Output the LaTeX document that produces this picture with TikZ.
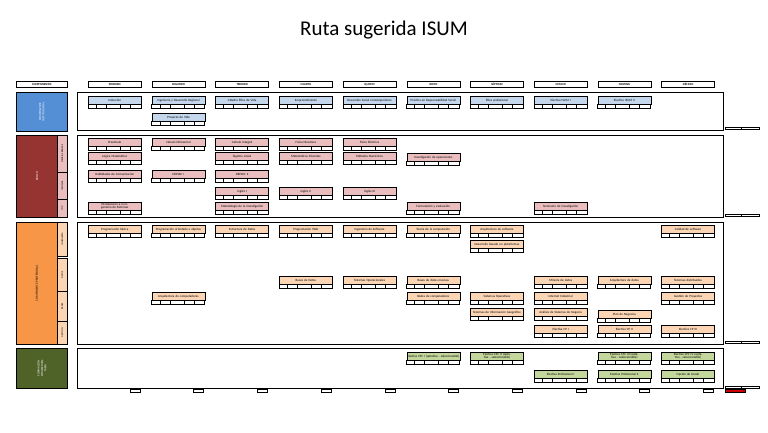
\documentclass[tikz,border=0pt]{standalone}
\usepackage{fontspec}
\setmainfont{Carlito}
\begin{document}
\begin{tikzpicture}[x=1pt,y=-1pt,
 crs/.style={draw,line width=0.5pt,anchor=north west,minimum width=53pt,minimum height=8pt,inner sep=0.3pt,align=center,text width=52pt,font=\fontsize{3.2}{3.5}\selectfont},
 hdr/.style={draw,line width=0.6pt,anchor=north west,minimum width=53pt,minimum height=6pt,inner sep=0pt,font=\fontsize{3}{3}\selectfont\bfseries},
 frame/.style={draw,line width=0.8pt},
 comp/.style={draw,line width=0.6pt,anchor=north west,inner sep=0pt},
 tab/.style={draw,line width=0.4pt,anchor=north west,inner sep=0pt,font=\fontsize{2.5}{2.8}\selectfont}]
\definecolor{cb}{RGB}{196,215,237}
\definecolor{cr}{RGB}{234,190,190}
\definecolor{co}{RGB}{251,213,180}
\definecolor{cg}{RGB}{195,214,155}
\definecolor{kb}{RGB}{84,142,213}
\definecolor{kr}{RGB}{150,52,50}
\definecolor{ko}{RGB}{247,150,70}
\definecolor{kg}{RGB}{79,98,40}
\useasboundingbox (0,0) rectangle (768,433);
\node (title) at (384,30) {\fontsize{21}{24}\selectfont Ruta sugerida ISUM};
% headers
\node[hdr,minimum width=51pt] (hc) at (16,81) {COMPONENTES};
\foreach \n [count=\i from 0] in {PRIMERO,SEGUNDO,TERCERO,CUARTO,QUINTO,SEXTO,SÉPTIMO,OCTAVO,NOVENO,DÉCIMO}
  \node[hdr] (h\i) at ({88+63.7*\i},81) {\n};
% frames
\draw[frame] (77,92) rectangle (723,130);
\draw[frame] (77,135) rectangle (723,217);
\draw[frame] (77,222) rectangle (723,344);
\draw[frame] (77,348) rectangle (723,388);
% component labels
\node[comp,fill=kb,minimum width=51pt,minimum height=39pt,text=white] (k1) at (16,92) {\rotatebox{90}{\parbox{20pt}{\centering\fontsize{3}{3.4}\selectfont COMPONENTE INSTITUCIONAL}}};
\node[comp,fill=kr,minimum width=41pt,minimum height=82pt,text=white] (k2) at (16,135) {\rotatebox{90}{\fontsize{3}{3}\selectfont BÁSICO}};
\node[comp,fill=ko,minimum width=41pt,minimum height=122pt] (k3) at (16,222) {\rotatebox{90}{\fontsize{3}{3}\selectfont COMPONENTE PROFESIONAL}};
\node[comp,fill=kg,minimum width=51pt,minimum height=40pt,text=white] (k4) at (16,348) {\rotatebox{90}{\parbox{20pt}{\centering\fontsize{3}{3.4}\selectfont FORMACIÓN COMPLEMENTARIA}}};
% tabs
\node[tab,fill=cr,minimum width=10pt,minimum height=37pt] (t1) at (57,135) {\rotatebox{90}{CIENCIAS BÁSICAS}};
\node[tab,fill=cr,minimum width=10pt,minimum height=27pt] (t2) at (57,172) {\rotatebox{90}{IDIOMAS}};
\node[tab,fill=cr,minimum width=10pt,minimum height=18pt] (t3) at (57,199) {\rotatebox{90}{INV.}};
\node[tab,fill=co,minimum width=10pt,minimum height=34pt] (t4) at (57,222) {\rotatebox{90}{INGENIERÍA}};
\node[tab,fill=co,minimum width=10pt,minimum height=33pt] (t5) at (57,258) {\rotatebox{90}{DATOS}};
\node[tab,fill=co,minimum width=10pt,minimum height=30pt] (t6) at (57,291) {\rotatebox{90}{REDES}};
\node[tab,fill=co,minimum width=10pt,minimum height=23pt] (t7) at (57,321) {\rotatebox{90}{GESTIÓN}};
% courses
\newcommand\crsbox[5]{%
 \node[crs,fill=#5] (#1) at ({88+63.7*#2},#3) {#4};
 \draw[line width=0.5pt,fill=white] (#1.south west) rectangle ++(53,4);
 \foreach \d in {8,18,32,42} \draw[line width=0.4pt] ([xshift=\d pt]#1.south west) -- ++(0,4);}
\crsbox{b1}{0}{96}{Inducción}{cb}
\crsbox{b2}{1}{96}{Ingeniería y Desarrollo Regional}{cb}
\crsbox{b3}{2}{96}{Cátedra Ética de Vida}{cb}
\crsbox{b4}{3}{96}{Emprendimiento}{cb}
\crsbox{b5}{4}{96}{Desarrollo Social Contemporáneo}{cb}
\crsbox{b6}{5}{96}{Práctica en Responsabilidad Social}{cb}
\crsbox{b7}{6}{96}{Ética profesional}{cb}
\crsbox{b8}{7}{96}{Electiva ISUM I}{cb}
\crsbox{b9}{8}{96}{Electiva ISUM II}{cb}
\crsbox{b10}{1}{113}{Proyecto de Vida}{cb}
\crsbox{r1}{0}{138}{Precálculo}{cr}
\crsbox{r2}{1}{138}{Cálculo Diferencial}{cr}
\crsbox{r3}{2}{138}{Cálculo Integral}{cr}
\crsbox{r4}{3}{138}{Física Mecánica}{cr}
\crsbox{r5}{4}{138}{Física Eléctrica}{cr}
\crsbox{r6}{0}{152}{Lógica Matemática}{cr}
\crsbox{r7}{2}{152}{Álgebra Lineal}{cr}
\crsbox{r8}{3}{152}{Matemáticas Discretas}{cr}
\crsbox{r9}{4}{152}{Métodos Numéricos}{cr}
\crsbox{r10}{5}{153}{Investigación de operaciones}{cr}
\crsbox{r11}{0}{170}{Habilidades de Comunicación}{cr}
\crsbox{r12}{1}{170}{DEPLEC I}{cr}
\crsbox{r13}{2}{170}{DEPLEC II}{cr}
\crsbox{r14}{2}{187}{Inglés I}{cr}
\crsbox{r15}{3}{187}{Inglés II}{cr}
\crsbox{r16}{4}{187}{Inglés III}{cr}
\crsbox{r17}{0}{202}{Introducción a la Ingeniería de Sistemas}{cr}
\crsbox{r18}{2}{202}{Metodología de la investigación}{cr}
\crsbox{r19}{5}{202}{Formulación y evaluación}{cr}
\crsbox{r20}{7}{202}{Seminario de investigación}{cr}
\crsbox{o1}{0}{225}{Programación básica}{co}
\crsbox{o2}{1}{225}{Programación orientada a objetos}{co}
\crsbox{o3}{2}{225}{Estructura de Datos}{co}
\crsbox{o4}{3}{225}{Programación Web}{co}
\crsbox{o5}{4}{225}{Ingeniería de Software}{co}
\crsbox{o6}{5}{225}{Teoría de la computación}{co}
\crsbox{o7}{6}{225}{Arquitectura de software}{co}
\crsbox{o8}{9}{225}{Calidad de software}{co}
\crsbox{o9}{6}{240}{Desarrollo basado en plataformas}{co}
\crsbox{o10}{3}{276}{Bases de Datos}{co}
\crsbox{o11}{4}{276}{Sistemas Operacionales}{co}
\crsbox{o12}{5}{276}{Bases de datos masivas}{co}
\crsbox{o13}{7}{276}{Minería de datos}{co}
\crsbox{o14}{8}{276}{Arquitectura de datos}{co}
\crsbox{o15}{9}{276}{Sistemas distribuidos}{co}
\crsbox{o16}{1}{292}{Arquitectura de computadores}{co}
\crsbox{o17}{5}{292}{Redes de computadores}{co}
\crsbox{o18}{6}{292}{Sistemas Operativos}{co}
\crsbox{o19}{7}{292}{Internet Industrial}{co}
\crsbox{o20}{9}{292}{Gestión de Proyectos}{co}
\crsbox{o21}{6}{308}{Sistemas de Información Geográfica}{co}
\crsbox{o22}{7}{308}{Análisis de Sistemas de Negocio}{co}
\crsbox{o23}{8}{310}{Plan de Negocios}{co}
\crsbox{o24}{7}{325}{Electiva CP I}{co}
\crsbox{o25}{8}{325}{Electiva CP II}{co}
\crsbox{o26}{9}{325}{Electiva CP III}{co}
\crsbox{g1}{5}{352}{Electiva CFC I (optativa - seleccionable)}{cg}
\crsbox{g2}{6}{352}{Electiva CFC II (optativa - seleccionable)}{cg}
\crsbox{g3}{8}{352}{Electiva CFC III (optativa - seleccionable)}{cg}
\crsbox{g4}{9}{352}{Electiva CFC IV (optativa - seleccionable)}{cg}
\crsbox{g5}{7}{370}{Electiva Profesional I}{cg}
\crsbox{g6}{8}{370}{Electiva Profesional II}{cg}
\crsbox{g7}{9}{370}{Opción de Grado}{cg}
% bottom markers
\foreach \i in {0,...,9}
  \draw[line width=0.5pt] ({130+63.7*\i},389) rectangle ++(10,3);
\draw[line width=0.5pt,fill=red!80!black] (725,389) rectangle (745,392);
% right side small boxes
\foreach \yy in {127,214,341,386}
  {\draw[line width=0.4pt] (725,\yy) rectangle ++(16,2); \draw[line width=0.4pt] (741,\yy) rectangle ++(18,2);}
\end{tikzpicture}
\end{document}
